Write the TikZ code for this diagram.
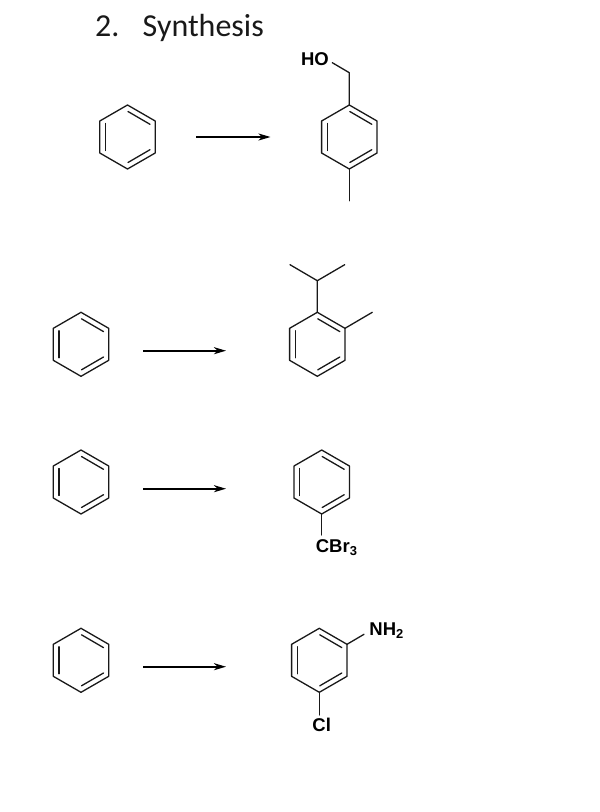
\documentclass[tikz,border=0pt]{standalone}
\usepackage{fontspec}
\setmainfont{Liberation Sans}
\newfontfamily\titlefont{Carlito}
\usetikzlibrary{arrows.meta}
\tikzset{
  bond/.style={line width=1.3pt,line cap=round,line join=round,draw=black!90},
  rxn/.style={line width=1.6pt,draw=black,-{Stealth[length=12pt,width=7pt,inset=3.5pt]}},
  atomlabel/.style={font=\fontsize{18.5}{19}\selectfont\bfseries,inner sep=0pt,text=black},
  heading/.style={font=\titlefont\fontsize{32}{34}\selectfont,inner sep=0pt,anchor=base west,text=black!90},
  ring/.pic={
    \coordinate (-t) at (0,-32);
    \coordinate (-ur) at (27.7,-16);
    \coordinate (-lr) at (27.7,16);
    \coordinate (-b) at (0,32);
    \coordinate (-ll) at (-27.7,16);
    \coordinate (-ul) at (-27.7,-16);
    \draw[bond] (-t) -- (-ur) -- (-lr) -- (-b) -- (-ll) -- (-ul) -- cycle;
    \draw[bond] (-22,-13.5) -- (-22,13.5);
    \draw[bond] (0.5,-25.5) -- (22.5,-12.7);
    \draw[bond] (0.5,25.5) -- (22.5,12.7);
  }
}
\begin{document}
\begin{tikzpicture}[x=1pt,y=-1pt]
\useasboundingbox (0,0) rectangle (600,812);
\fill[white] (0,0) rectangle (600,812);
\node[heading] (numeral) at (95,36) {2.};
\node[heading] (title) at (142.5,36) {Synthesis};

% row 1
\pic (s1) at (127.5,137) {ring};
\coordinate (a1s) at (196,137);
\coordinate (a1e) at (270.5,137);
\draw[rxn] (a1s) -- (a1e);
\pic (p1) at (349.3,137) {ring};
\coordinate (p1ch) at (349.3,72.7);
\coordinate (p1me) at (349.3,200.7);
\node[atomlabel] (ho) at (315,59) {HO};
\coordinate (p1o) at (332.3,62.7);
\draw[bond] (p1-t) -- (p1ch) -- (p1o);
\draw[bond] (p1-b) -- (p1me);

% row 2
\pic (s2) at (81,344.3) {ring};
\coordinate (a2s) at (143,350.7);
\coordinate (a2e) at (226,350.7);
\draw[rxn] (a2s) -- (a2e);
\pic (p2) at (317.3,344.3) {ring};
\coordinate (p2ch) at (317.3,280.7);
\coordinate (p2l) at (290,264.7);
\coordinate (p2r) at (344.7,264.7);
\coordinate (p2me) at (372.3,312.3);
\draw[bond] (p2-t) -- (p2ch) -- (p2l);
\draw[bond] (p2ch) -- (p2r);
\draw[bond] (p2-ur) -- (p2me);

% row 3
\pic (s3) at (81,482) {ring};
\coordinate (a3s) at (143,488.7);
\coordinate (a3e) at (226,488.7);
\draw[rxn] (a3s) -- (a3e);
\pic (p3) at (321.7,482) {ring};
\node[atomlabel] (cbr) at (336.7,547.5) {CBr\textsubscript{3}};
\coordinate (p3c) at (321.7,535);
\draw[bond] (p3-b) -- (p3c);

% row 4
\pic (s4) at (81,660.3) {ring};
\coordinate (a4s) at (143,666.7);
\coordinate (a4e) at (226,666.7);
\draw[rxn] (a4s) -- (a4e);
\pic (p4) at (319.3,660.3) {ring};
\node[atomlabel] (nh) at (386.7,631) {NH\textsubscript{2}};
\node[atomlabel] (cl) at (321.7,725) {Cl};
\coordinate (p4n) at (364,634.3);
\coordinate (p4c) at (319.3,715);
\draw[bond] (p4-ur) -- (p4n);
\draw[bond] (p4-b) -- (p4c);
\end{tikzpicture}
\end{document}
